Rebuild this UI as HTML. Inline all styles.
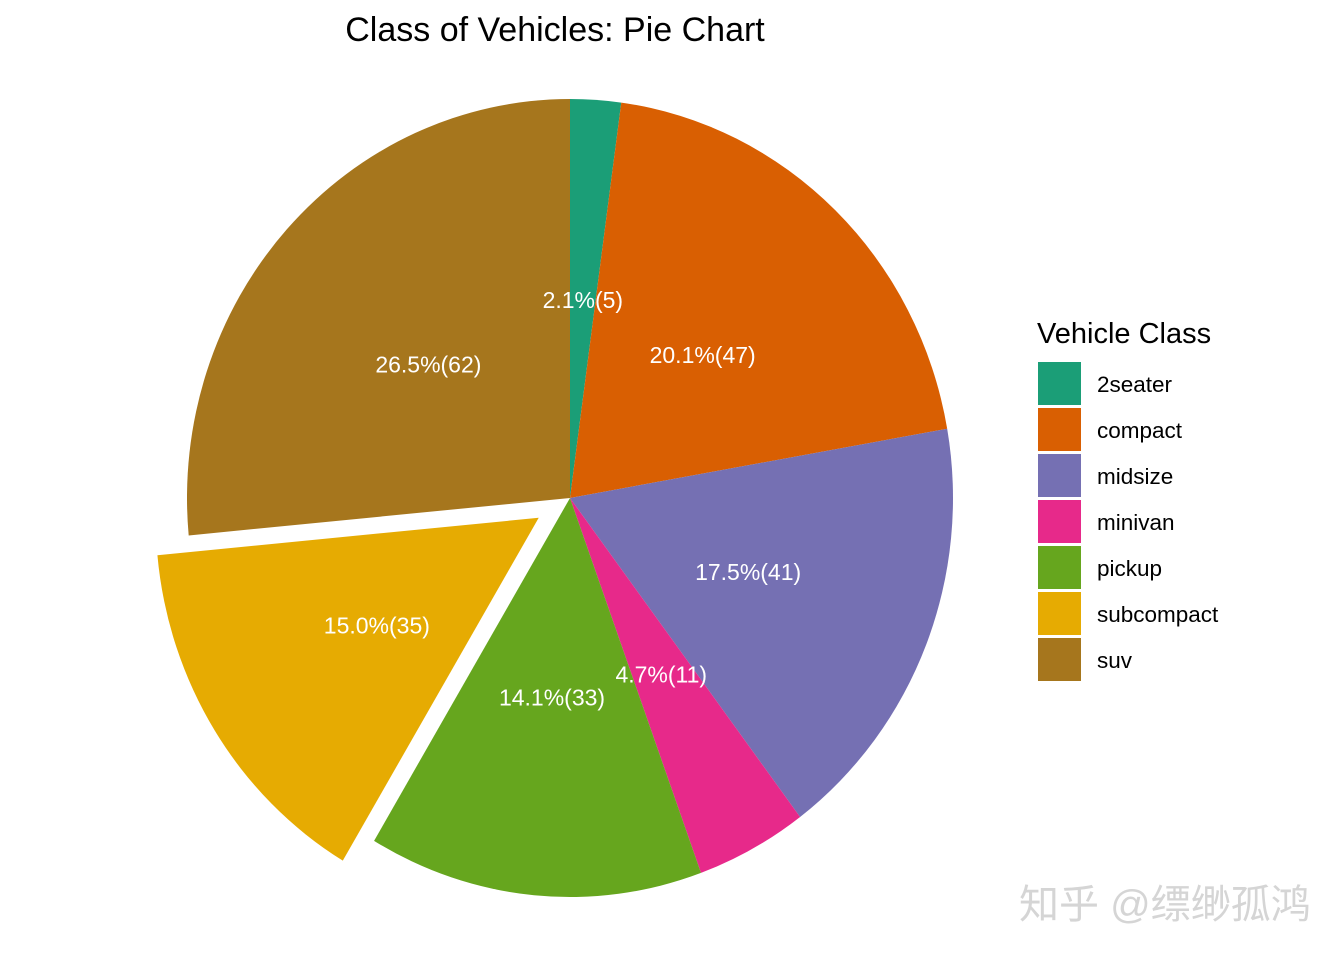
<!DOCTYPE html>
<html><head><meta charset="utf-8"><style>
body{margin:0;background:#fff}
svg{display:block}
text{font-family:"Liberation Sans","Noto Sans CJK SC",sans-serif}
</style></head><body>
<svg id="c" width="1344" height="960">
<text x="555" y="41" font-size="34" text-anchor="middle" fill="#000">Class of Vehicles: Pie Chart</text>
<g id="slices"></g><g id="labels"></g>
<g id="legend">
<text x="1037" y="343" font-size="29" fill="#000">Vehicle Class</text>
</g>
<text x="1019" y="918" font-size="40" fill="#d5d5d5">知乎 @缥缈孤鸿</text>
</svg>
<script>
const categories=["2seater","compact","midsize","minivan","pickup","subcompact","suv"];
const counts=[5,47,41,11,33,35,62];
const colors=["#1B9E77","#D95F02","#7570B3","#E7298A","#66A61E","#E6AB02","#A6761D"];
const exploded=["subcompact"];
const cx=570,cy=498,rx=383,ry=399,explode=37;
const NS="http://www.w3.org/2000/svg";
const total=counts.reduce((a,b)=>a+b,0);
const sl=document.getElementById('slices'),lb=document.getElementById('labels'),lg=document.getElementById('legend');
let cum=0;
function pt(a,r,ox,oy){return [ox+Math.sin(a)*rx*r, oy-Math.cos(a)*ry*r];}
counts.forEach((v,i)=>{
  const a0=cum/total*2*Math.PI, a1=(cum+v)/total*2*Math.PI, am=(a0+a1)/2; cum+=v;
  let ox=cx,oy=cy;
  if(exploded.includes(categories[i])){ox+=Math.sin(am)*explode;oy-=Math.cos(am)*explode;}
  const p0=pt(a0,1,ox,oy),p1=pt(a1,1,ox,oy);
  const path=document.createElementNS(NS,'path');
  path.setAttribute('d',`M${ox},${oy}L${p0[0]},${p0[1]}A${rx},${ry} 0 ${a1-a0>Math.PI?1:0} 1 ${p1[0]},${p1[1]}Z`);
  path.setAttribute('fill',colors[i]);
  
  
  sl.appendChild(path);
  const lp=pt(am,0.5,ox,oy);
  const t=document.createElementNS(NS,'text');
  t.setAttribute('x',lp[0]);t.setAttribute('y',lp[1]+9);
  t.setAttribute('text-anchor','middle');t.setAttribute('font-size','23');t.setAttribute('fill','#fff');
  t.textContent=(v/total*100).toFixed(1)+'%('+v+')';
  
  
  lb.appendChild(t);
  const r=document.createElementNS(NS,'rect');
  r.setAttribute('x',1038);r.setAttribute('y',362+i*46);r.setAttribute('width',43);r.setAttribute('height',43);r.setAttribute('fill',colors[i]);
  
  
  lg.appendChild(r);
  const lt=document.createElementNS(NS,'text');
  lt.setAttribute('x',1097);lt.setAttribute('y',392+i*46);lt.setAttribute('font-size','22.5');lt.setAttribute('fill','#000');
  lt.textContent=categories[i];
  
  
  lg.appendChild(lt);
});
</script>
</body></html>
